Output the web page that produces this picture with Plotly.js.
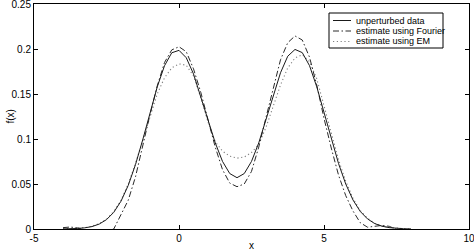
<!DOCTYPE html>
<html>
<head>
<meta charset="utf-8">
<script src="https://cdn.plot.ly/plotly-3.0.1.min.js"></script>
<style>html,body{margin:0;padding:0;background:#fff;}#chart{width:474px;height:251px;}</style>
</head>
<body>
<div id="chart"></div>
<script>
// ---- data ----
const xGrid = [-4, -3.75, -3.5, -3.25, -3, -2.75, -2.5, -2.25, -2, -1.75, -1.5, -1.25, -1, -0.75, -0.5, -0.25,
  0, 0.25, 0.5, 0.75, 1, 1.25, 1.5, 1.75, 2, 2.25, 2.5, 2.75, 3, 3.25, 3.5, 3.75,
  4, 4.25, 4.5, 4.75, 5, 5.25, 5.5, 5.75, 6, 6.25, 6.5, 6.75, 7, 7.25, 7.5, 7.75, 8];

const unperturbed = [0.0001, 0.0002, 0.0006, 0.0013, 0.0027, 0.0055, 0.0104, 0.0185, 0.0309, 0.0485, 0.0716, 0.0992, 0.129, 0.158, 0.1814, 0.1958,
  0.1985, 0.1903, 0.1723, 0.148, 0.1212, 0.0957, 0.0751, 0.0616, 0.057, 0.0616, 0.0751, 0.0957, 0.1212, 0.148, 0.1736, 0.192,
  0.1995, 0.196, 0.1815, 0.158, 0.1296, 0.1001, 0.0728, 0.0499, 0.0322, 0.0195, 0.0112, 0.006, 0.0031, 0.0015, 0.0007, 0.0003, 0.0001];

const fourier = [0.0015, 0.0022, 0.0012, -0.001, -0.003, -0.004, -0.003, 0.0, 0.0155, 0.032, 0.058, 0.093, 0.127, 0.159, 0.185, 0.199,
  0.2025, 0.197, 0.178, 0.152, 0.121, 0.091, 0.066, 0.051, 0.047, 0.050, 0.064, 0.091, 0.124, 0.157, 0.188, 0.207,
  0.2145, 0.210, 0.191, 0.160, 0.123, 0.090, 0.060, 0.037, 0.020, 0.007, 0.002, 0.003, 0.004, 0.003, -0.0005, -0.002, -0.002];

const em = [0.0001, 0.0003, 0.0007, 0.0015, 0.0031, 0.006, 0.011, 0.0195, 0.032, 0.050, 0.073, 0.099, 0.126, 0.150, 0.168, 0.179,
  0.1835, 0.182, 0.170, 0.146, 0.119, 0.097, 0.0865, 0.081, 0.0787, 0.080, 0.085, 0.094, 0.113, 0.136, 0.160, 0.179,
  0.190, 0.1935, 0.186, 0.167, 0.137, 0.106, 0.077, 0.053, 0.034, 0.0205, 0.012, 0.0065, 0.0034, 0.0017, 0.0008, 0.0004, 0.0002];

const seriesNames = ['unperturbed data', 'estimate using Fourier', 'estimate using EM'];
const xTickVals = [-5, 0, 5, 10];
const xTickText = ['-5', '0', '5', '10'];
const yTickVals = [0, 0.05, 0.1, 0.15, 0.2, 0.25];
const yTickText = ['0', '0.05', '0.1', '0.15', '0.2', '0.25'];
const xTitle = 'x';
const yTitle = 'f(x)';

// ---- styling ----
const FONT = 'Liberation Sans, Arial, Helvetica, sans-serif';
const lineStyles = [
  {color: '#1a1a1a', width: 1, dash: 'solid'},
  {color: '#2a2a2a', width: 1, dash: '6px,2.5px,1.5px,2.5px'},
  {color: '#808080', width: 1.1, dash: '1.2px,2.6px'}
];
const seriesY = [unperturbed, fourier, em];

const traces = seriesY.map((ys, i) => ({
  type: 'scatter', mode: 'lines', x: xGrid, y: ys, name: seriesNames[i],
  line: lineStyles[i], showlegend: false, hoverinfo: 'skip'
}));
// draw order: EM under, then Fourier, then solid on top
const ordered = [traces[2], traces[1], traces[0]];

const W = 474, H = 251;
const M = {l: 34, r: 5, t: 4, b: 22};
const PW = W - M.l - M.r, PH = H - M.t - M.b;
const px2x = p => (p - M.l) / PW;
const py2y = p => (H - M.b - p) / PH;

// custom legend (box, samples, labels) placed like the reference
const legBox = {x0: 329, x1: 443, y0: 13, y1: 48};
const rowsY = [20.5, 31, 41.5];
const shapes = [{
  type: 'rect', xref: 'paper', yref: 'paper',
  x0: px2x(legBox.x0), x1: px2x(legBox.x1), y0: py2y(legBox.y1), y1: py2y(legBox.y0),
  line: {color: '#000', width: 1}, fillcolor: '#fff', layer: 'above'
}];
const annotations = [];
rowsY.forEach((ry, i) => {
  shapes.push({type: 'line', xref: 'paper', yref: 'paper',
    x0: px2x(333), x1: px2x(351), y0: py2y(ry), y1: py2y(ry),
    line: lineStyles[i], layer: 'above'});
  annotations.push({xref: 'paper', yref: 'paper', x: px2x(354), y: py2y(ry),
    xanchor: 'left', yanchor: 'middle', text: seriesNames[i], showarrow: false,
    font: {family: FONT, size: 9, color: '#000'}});
});
annotations.push({xref: 'paper', yref: 'paper', x: 0.5, y: 0, yshift: -16,
  xanchor: 'center', yanchor: 'middle', text: xTitle, showarrow: false,
  font: {family: FONT, size: 10, color: '#000'}});
annotations.push({xref: 'paper', yref: 'paper', x: 0, y: 0.5, xshift: -24,
  xanchor: 'center', yanchor: 'middle', textangle: -90, text: yTitle, showarrow: false,
  font: {family: FONT, size: 10, color: '#000'}});

const axisCommon = {
  showgrid: false, zeroline: false, showline: true, linecolor: '#000', linewidth: 1,
  mirror: 'ticks', ticks: 'inside', ticklen: 4, tickcolor: '#000', tickwidth: 1,
  ticklabeloverflow: 'allow',
  tickfont: {family: FONT, size: 10, color: '#000'}, fixedrange: true
};

const layout = {
  width: W, height: H, margin: M,
  paper_bgcolor: '#fff', plot_bgcolor: '#fff',
  showlegend: false,
  xaxis: Object.assign({}, axisCommon, {range: [-5, 10], tickmode: 'array', tickvals: xTickVals, ticktext: xTickText}),
  yaxis: Object.assign({}, axisCommon, {range: [0, 0.25], tickmode: 'array', tickvals: yTickVals, ticktext: yTickText}),
  shapes: shapes, annotations: annotations,
  font: {family: FONT, size: 10, color: '#000'}
};

Plotly.newPlot('chart', ordered, layout, {displayModeBar: false, staticPlot: true});
</script>
</body>
</html>
